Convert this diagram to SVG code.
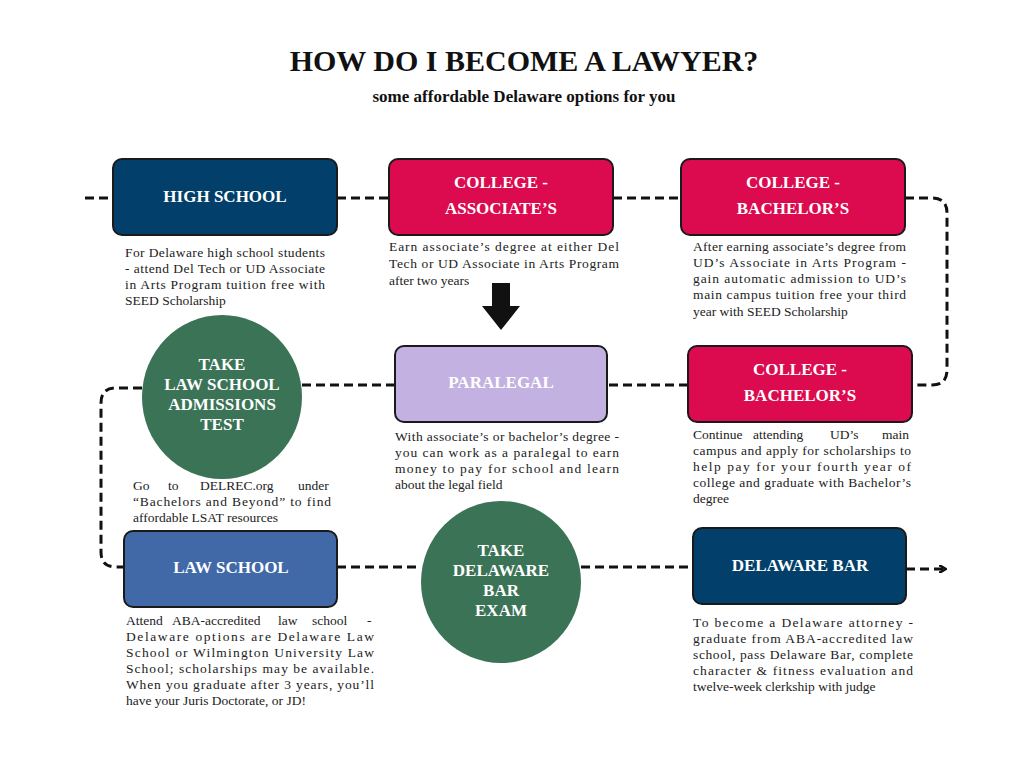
<svg xmlns="http://www.w3.org/2000/svg" width="1024" height="768" viewBox="0 0 1024 768">
<style>
text{font-family:"Liberation Serif","Times New Roman",serif}
.box{stroke:#1a1a1a;stroke-width:2}
.lbl{font-weight:bold;fill:#fff;font-size:17px;text-anchor:middle}
.d{font-size:13.5px;fill:#222}
.c{fill:none;stroke:#111;stroke-width:3;stroke-dasharray:9,5}
</style>
<defs><marker id="ah" markerWidth="8" markerHeight="8" refX="5" refY="4" orient="auto" markerUnits="userSpaceOnUse"><path d="M0,0 L7,4 L0,8" fill="none" stroke="#111" stroke-width="2.5"/></marker></defs>
<rect width="1024" height="768" fill="#fff"/>
<text x="524" y="71" font-size="30" font-weight="bold" text-anchor="middle" fill="#111">HOW DO I BECOME A LAWYER?</text>
<text x="524" y="102" font-size="17" font-weight="bold" text-anchor="middle" fill="#111">some affordable Delaware options for you</text>
<g id="connectors">
<path class="c" d="M85,198 H113"/>
<path class="c" d="M337,198 H389"/>
<path class="c" d="M613,198 H681"/>
<path class="c" d="M905,198 H932 Q947,198 947,213 V370 Q947,385 932,385 H912"/>
<path class="c" d="M688,385 H607"/>
<path class="c" d="M395,385 H302"/>
<path class="c" d="M142,388 H116 Q101,388 101,403 V552 Q101,567 116,567 H124"/>
<path class="c" d="M337,567 H421"/>
<path class="c" d="M581,567 H693"/>
<path class="c" d="M906,569 H944" marker-end="url(#ah)"/>
<path d="M492,283 H510 V306 H520 L501,330 L482,306 H492 Z" fill="#111"/>
</g>
<g id="highschool"><rect class="box" x="113" y="159" width="224" height="76" rx="9" fill="#023f6a"/><text class="lbl" x="225" y="202">HIGH SCHOOL</text>
<text class="d"><tspan x="125" y="257" textLength="200" lengthAdjust="spacing">For Delaware high school students</tspan><tspan x="125" y="273" textLength="200" lengthAdjust="spacing">- attend Del Tech or UD Associate</tspan><tspan x="125" y="289" textLength="200" lengthAdjust="spacing">in Arts Program tuition free with</tspan><tspan x="125" y="305">SEED Scholarship</tspan></text></g>
<g id="associate"><rect class="box" x="389" y="159" width="224" height="76" rx="9" fill="#dc0a4e"/><text class="lbl" x="501" y="188">COLLEGE -</text><text class="lbl" x="501" y="214">ASSOCIATE’S</text>
<text class="d"><tspan x="389" y="251" textLength="230" lengthAdjust="spacing">Earn associate’s degree at either Del</tspan><tspan x="389" y="268" textLength="230" lengthAdjust="spacing">Tech or UD Associate in Arts Program</tspan><tspan x="389" y="285">after two years</tspan></text></g>
<g id="bachelor1"><rect class="box" x="681" y="159" width="224" height="76" rx="9" fill="#dc0a4e"/><text class="lbl" x="793" y="188">COLLEGE -</text><text class="lbl" x="793" y="214">BACHELOR’S</text>
<text class="d"><tspan x="693" y="251" textLength="213" lengthAdjust="spacing">After earning associate’s degree from</tspan><tspan x="693" y="267" textLength="213" lengthAdjust="spacing">UD’s Associate in Arts Program -</tspan><tspan x="693" y="283" textLength="213" lengthAdjust="spacing">gain automatic admission to UD’s</tspan><tspan x="693" y="299" textLength="213" lengthAdjust="spacing">main campus tuition free your third</tspan><tspan x="693" y="316">year with SEED Scholarship</tspan></text></g>
<g id="paralegal"><rect class="box" x="395" y="346" width="212" height="76" rx="9" fill="#c3b1e1"/><text class="lbl" x="501" y="388">PARALEGAL</text>
<text class="d"><tspan x="395" y="441" textLength="224" lengthAdjust="spacing">With associate’s or bachelor’s degree -</tspan><tspan x="395" y="457" textLength="224" lengthAdjust="spacing">you can work as a paralegal to earn</tspan><tspan x="395" y="473" textLength="224" lengthAdjust="spacing">money to pay for school and learn</tspan><tspan x="395" y="489">about the legal field</tspan></text></g>
<g id="bachelor2"><rect class="box" x="688" y="346" width="224" height="76" rx="9" fill="#dc0a4e"/><text class="lbl" x="800" y="375">COLLEGE -</text><text class="lbl" x="800" y="401">BACHELOR’S</text>
<text class="d"><tspan x="693" y="439">Continue</tspan><tspan x="753" y="439">attending</tspan><tspan x="830" y="439">UD’s</tspan><tspan x="882" y="439">main</tspan><tspan x="693" y="455" textLength="218" lengthAdjust="spacing">campus and apply for scholarships to</tspan><tspan x="693" y="471" textLength="218" lengthAdjust="spacing">help pay for your fourth year of</tspan><tspan x="693" y="487" textLength="218" lengthAdjust="spacing">college and graduate with Bachelor’s</tspan><tspan x="693" y="503">degree</tspan></text></g>
<g id="lsat"><ellipse cx="222" cy="397" rx="80" ry="82" fill="#3b7356"/>
<text class="lbl"><tspan x="222" y="370">TAKE</tspan><tspan x="222" y="390">LAW SCHOOL</tspan><tspan x="222" y="410">ADMISSIONS</tspan><tspan x="222" y="430">TEST</tspan></text>
<text class="d"><tspan x="133" y="490">Go</tspan><tspan x="168" y="490">to</tspan><tspan x="200" y="490">DELREC.org</tspan><tspan x="298" y="490">under</tspan><tspan x="133" y="506" textLength="198" lengthAdjust="spacing">“Bachelors and Beyond” to find</tspan><tspan x="133" y="522">affordable LSAT resources</tspan></text></g>
<g id="lawschool"><rect class="box" x="124" y="531" width="213" height="76" rx="9" fill="#4169a8"/><text class="lbl" x="231" y="573">LAW SCHOOL</text>
<text class="d"><tspan x="126" y="625">Attend</tspan><tspan x="172" y="625">ABA-accredited</tspan><tspan x="278" y="625">law</tspan><tspan x="312" y="625">school</tspan><tspan x="367" y="625">-</tspan><tspan x="126" y="641" textLength="248" lengthAdjust="spacing">Delaware options are Delaware Law</tspan><tspan x="126" y="657" textLength="248" lengthAdjust="spacing">School or Wilmington University Law</tspan><tspan x="126" y="673" textLength="248" lengthAdjust="spacing">School; scholarships may be available.</tspan><tspan x="126" y="689" textLength="248" lengthAdjust="spacing">When you graduate after 3 years, you’ll</tspan><tspan x="126" y="705">have your Juris Doctorate, or JD!</tspan></text></g>
<g id="barexam"><ellipse cx="501" cy="582" rx="80" ry="81" fill="#3b7356"/>
<text class="lbl"><tspan x="501" y="556">TAKE</tspan><tspan x="501" y="576">DELAWARE</tspan><tspan x="501" y="596">BAR</tspan><tspan x="501" y="616">EXAM</tspan></text></g>
<g id="delawarebar"><rect class="box" x="693" y="528" width="213" height="76" rx="9" fill="#023f6a"/><text class="lbl" x="800" y="571">DELAWARE BAR</text>
<text class="d"><tspan x="693" y="627" textLength="220" lengthAdjust="spacing">To become a Delaware attorney -</tspan><tspan x="693" y="643" textLength="220" lengthAdjust="spacing">graduate from ABA-accredited law</tspan><tspan x="693" y="659" textLength="220" lengthAdjust="spacing">school, pass Delaware Bar, complete</tspan><tspan x="693" y="675" textLength="220" lengthAdjust="spacing">character &amp; fitness evaluation and</tspan><tspan x="693" y="691">twelve-week clerkship with judge</tspan></text></g>
</svg>
